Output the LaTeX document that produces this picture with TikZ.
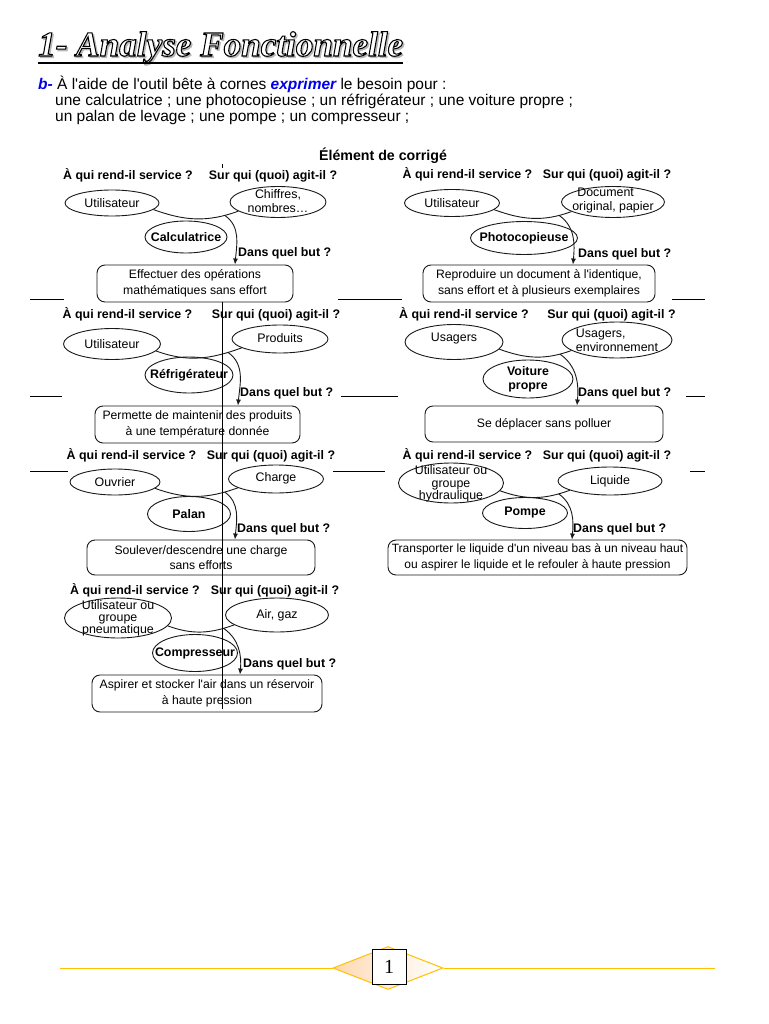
\documentclass[tikz,border=0pt]{standalone}
\usepackage{fontspec}
\setmainfont{Liberation Sans}[Ligatures=TeXOff]
\newfontfamily\titrefont{Liberation Serif Bold Italic}[FakeBold=3]
\newfontfamily\pagefont{Liberation Serif}
\usetikzlibrary{shapes.geometric,arrows.meta}
\definecolor{bleu}{RGB}{0,0,235}
\definecolor{orpage}{RGB}{255,192,0}

\begin{document}
\begin{tikzpicture}[x=1pt,y=1pt,
  trait/.style={draw=black!90, line width=0.9pt},
  corne/.style={trait, ellipse, inner sep=0pt},
  etiq/.style={font=\fontsize{12.4}{14}\selectfont, align=center, inner sep=0pt},
  produit/.style={etiq, font=\fontsize{12.4}{14}\selectfont\bfseries},
  question/.style={font=\fontsize{12.4}{14}\selectfont\bfseries, inner sep=0pt, anchor=base},
  dans/.style={question, anchor=base west},
  but/.style={trait, rounded corners=8pt, align=center, inner sep=0pt, font=\fontsize{12.2}{15.5}\selectfont},
  fleche/.style={trait, -{Latex[length=6pt,width=5pt]}},
  entete/.style={anchor=base west, inner sep=0pt, font=\fontsize{15.5}{16}\selectfont},
  ligne/.style={line width=0.9pt}]
\fill[white] (0,0) rectangle (768,-1024);
\useasboundingbox (0,0) rectangle (768,-1024);

% titre
\node[anchor=base west, inner sep=0pt] (ombre) at (39.5,-57.5) {\resizebox{365pt}{!}{\titrefont\fontsize{30}{30}\selectfont\color{gray!55}1- Analyse Fonctionnelle}};
\node[anchor=base west, inner sep=0pt] (titre) at (38,-56) {\resizebox{365pt}{!}{\titrefont\fontsize{30}{30}\selectfont\color{white}\special{pdf:code 0 G}1- Analyse Fonctionnelle}};
\draw[line width=1.8pt] (38,-63) -- (403,-63);

\node[entete] (l1) at (38,-90) {\textcolor{bleu}{\bfseries\itshape b-} À l'aide de l'outil bête à cornes \textcolor{bleu}{\bfseries\itshape exprimer} le besoin pour :};
\node[entete] (l2) at (55,-106) {une calculatrice ; une photocopieuse ; un réfrigérateur ; une voiture propre ;};
\node[entete] (l3) at (55,-122) {un palan de levage ; une pompe ; un compresseur ;};

\node[font=\fontsize{14.2}{16}\selectfont\bfseries, anchor=base] (corr) at (383,-161) {Élément de corrigé};

% calculatrice
\node[question] (q1a) at (128,-180) {À qui rend-il service ?};
\node[question] (q1s) at (273,-180) {Sur qui (quoi) agit-il ?};
\node[corne, minimum width=94pt, minimum height=26pt] (u1) at (112,-203) {};
\node[etiq] (tu1) at (u1) {Utilisateur};
\node[corne, minimum width=96pt, minimum height=31pt] (m1) at (278,-202) {};
\node[etiq] (tm1) at ([yshift=1pt]m1) {Chiffres,\\nombres…};
\node[corne, minimum width=82pt, minimum height=32pt] (p1) at (186,-237) {};
\node[produit] (tp1) at (p1) {Calculatrice};
\node[but, minimum width=196pt, minimum height=37pt] (b1) at (195,-283.5) {Effectuer des opérations\\mathématiques sans effort};
\draw[trait] (u1.-9) to[out=-20,in=-160] coordinate[pos=.85] (a1) (m1.-167);
\draw[fleche] (a1) to[out=-35,in=85] ([xshift=40pt]b1.north);
\node[dans] (d1) at (238,-256) {Dans quel but ?};

% photocopieuse
\node[question] (q2a) at (467.5,-179) {À qui rend-il service ?};
\node[question] (q2s) at (607,-179) {Sur qui (quoi) agit-il ?};
\node[corne, minimum width=95pt, minimum height=27pt] (u2) at (452,-203) {};
\node[etiq] (tu2) at (u2) {Utilisateur};
\node[corne, minimum width=103pt, minimum height=31pt] (m2) at (613,-202) {};
\node[etiq, align=left] (tm2) at ([yshift=1pt]m2) {\hspace{5pt}Document\\original, papier};
\node[corne, minimum width=107pt, minimum height=33pt] (p2) at (524,-238) {};
\node[produit] (tp2) at (p2) {Photocopieuse};
\node[but, minimum width=232pt, minimum height=37pt] (b2) at (539,-283.5) {Reproduire un document à l'identique,\\sans effort et à plusieurs exemplaires};
\draw[trait] (u2.-9) to[out=-20,in=-160] coordinate[pos=.85] (a2) (m2.-167);
\draw[fleche] (a2) to[out=-35,in=85] ([xshift=34pt]b2.north);
\node[dans] (d2) at (578,-257) {Dans quel but ?};

% refrigerateur
\node[question] (q3a) at (127.5,-318) {À qui rend-il service ?};
\node[question] (q3s) at (276,-318) {Sur qui (quoi) agit-il ?};
\node[corne, minimum width=97pt, minimum height=31pt] (u3) at (112,-344) {};
\node[etiq] (tu3) at (u3) {Utilisateur};
\node[corne, minimum width=96pt, minimum height=28pt] (m3) at (280,-339) {};
\node[etiq] (tm3) at ([yshift=1pt]m3) {Produits};
\node[corne, minimum width=88pt, minimum height=36pt] (p3) at (189,-375) {};
\node[produit] (tp3) at (p3) {Réfrigérateur};
\node[but, minimum width=205pt, minimum height=37pt] (b3) at (197.5,-424.5) {Permette de maintenir des produits\\à une température donnée};
\draw[trait] (u3.-9) to[out=-20,in=-160] coordinate[pos=.85] (a3) (m3.-167);
\draw[fleche] (a3) to[out=-35,in=85] ([xshift=40.5pt]b3.north);
\node[dans] (d3) at (240,-396) {Dans quel but ?};

% voiture propre
\node[question] (q4a) at (464,-318) {À qui rend-il service ?};
\node[question] (q4s) at (611.5,-318) {Sur qui (quoi) agit-il ?};
\node[corne, minimum width=98pt, minimum height=35pt] (u4) at (454,-342) {};
\node[etiq] (tu4) at ([yshift=3pt]u4) {Usagers};
\node[corne, minimum width=110pt, minimum height=36pt] (m4) at (617,-340) {};
\node[etiq, align=left] (tm4) at (m4) {Usagers,\\environnement};
\node[corne, minimum width=90pt, minimum height=38pt] (p4) at (528,-379) {};
\node[produit] (tp4) at (p4) {Voiture\\propre};
\node[but, minimum width=238pt, minimum height=36pt] (b4) at (544,-424) {Se déplacer sans polluer};
\draw[trait] (u4.-9) to[out=-20,in=-160] coordinate[pos=.85] (a4) (m4.-167);
\draw[fleche] (a4) to[out=-35,in=85] ([xshift=33pt]b4.north);
\node[dans] (d4) at (578,-396) {Dans quel but ?};

% palan
\node[question] (q5a) at (131.5,-459) {À qui rend-il service ?};
\node[question] (q5s) at (271,-459) {Sur qui (quoi) agit-il ?};
\node[corne, minimum width=90pt, minimum height=26pt] (u5) at (115,-482) {};
\node[etiq] (tu5) at (u5) {Ouvrier};
\node[corne, minimum width=95pt, minimum height=28pt] (m5) at (276,-479) {};
\node[etiq] (tm5) at ([yshift=1pt]m5) {Charge};
\node[corne, minimum width=83pt, minimum height=35pt] (p5) at (189,-514) {};
\node[produit] (tp5) at (p5) {Palan};
\node[but, minimum width=228pt, minimum height=35pt] (b5) at (201,-557.5) {Soulever/descendre une charge\\sans efforts};
\draw[trait] (u5.-9) to[out=-20,in=-160] coordinate[pos=.85] (a5) (m5.-167);
\draw[fleche] (a5) to[out=-35,in=85] ([xshift=34pt]b5.north);
\node[dans] (d5) at (237,-532) {Dans quel but ?};

% pompe
\node[question] (q6a) at (467.5,-459) {À qui rend-il service ?};
\node[question] (q6s) at (607,-459) {Sur qui (quoi) agit-il ?};
\node[corne, minimum width=105pt, minimum height=40pt] (u6) at (451,-483) {};
\node[etiq, font=\fontsize{12.4}{12.5}\selectfont] (tu6) at ([yshift=-1pt]u6) {Utilisateur ou\\groupe\\hydraulique};
\node[corne, minimum width=104pt, minimum height=28pt] (m6) at (610,-481) {};
\node[etiq] (tm6) at (m6) {Liquide};
\node[corne, minimum width=85pt, minimum height=31pt] (p6) at (525,-513) {};
\node[produit] (tp6) at (p6) {Pompe};
\node[but, minimum width=299pt, minimum height=35pt, font=\fontsize{12}{15.5}\selectfont] (b6) at (537.5,-557.5) {Transporter le liquide d'un niveau bas à un niveau haut\\ou aspirer le liquide et le refouler à haute pression};
\draw[trait] (u6.-9) to[out=-20,in=-160] coordinate[pos=.85] (a6) (m6.-167);
\draw[fleche] (a6) to[out=-35,in=85] ([xshift=34.5pt]b6.north);
\node[dans] (d6) at (573,-532) {Dans quel but ?};

% compresseur
\node[question] (q7a) at (135,-594) {À qui rend-il service ?};
\node[question] (q7s) at (275,-594) {Sur qui (quoi) agit-il ?};
\node[corne, minimum width=107pt, minimum height=40pt] (u7) at (118,-618) {};
\node[etiq, font=\fontsize{12.4}{12}\selectfont] (tu7) at (u7) {Utilisateur ou\\groupe\\pneumatique};
\node[corne, minimum width=103pt, minimum height=34pt] (m7) at (277,-615) {};
\node[etiq] (tm7) at (m7) {Air, gaz};
\node[corne, minimum width=85pt, minimum height=37pt] (p7) at (195,-653) {};
\node[produit] (tp7) at (p7) {Compresseur};
\node[but, minimum width=230pt, minimum height=37pt] (b7) at (207,-693.5) {Aspirer et stocker l'air dans un réservoir\\à haute pression};
\draw[trait] (u7.-9) to[out=-20,in=-160] coordinate[pos=.85] (a7) (m7.-167);
\draw[fleche] (a7) to[out=-35,in=85] ([xshift=33pt]b7.north);
\node[dans] (d7) at (243,-667) {Dans quel but ?};

% traits du document
\draw[line width=1pt] (222,-302) -- (222,-709);
\draw[line width=1pt] (222,-164) -- (222,-168);
\foreach \xa/\xb/\yy in {30/64/299, 338/402/299, 672/705/299, 30/62/396, 341/398/396, 686/705/396, 30/68/471, 333/385/471, 690/705/471}
  \draw[ligne] (\xa,-\yy) -- (\xb,-\yy);

% pied de page
\node[diamond, draw=orpage, line width=1pt, inner sep=0pt, minimum width=110pt, minimum height=43pt, left color=orange!30, right color=white] (losange) at (388,-968) {};
\draw[orpage, line width=1pt] (60,-968) -- (losange.west);
\draw[orpage, line width=1pt] (losange.east) -- (715,-968);
\node[draw, fill=white, line width=0.8pt, minimum width=34pt, minimum height=35pt, inner sep=0pt, font=\pagefont\fontsize{20}{20}\selectfont] (page) at (389,-967) {1};
\end{tikzpicture}
\end{document}
